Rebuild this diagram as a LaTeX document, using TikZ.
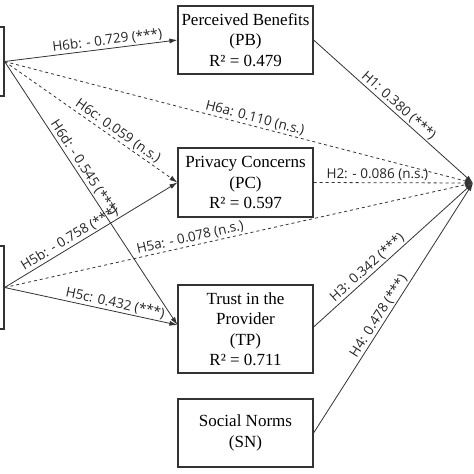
\documentclass[tikz,border=0pt]{standalone}
\usepackage{fontspec}
\setmainfont{Liberation Serif}
\newfontfamily\lblfont{Open Sans}
\usetikzlibrary{arrows.meta}
\definecolor{ln}{HTML}{333333}
\begin{document}
\begin{tikzpicture}[x=1pt,y=-1pt,
  box/.style={draw=ln, line width=1.2pt, inner sep=0pt, align=center,
    minimum width=135pt, font=\fontsize{17}{20.5}\selectfont},
  sidebox/.style={draw=ln, line width=1.2pt, inner sep=0pt, minimum width=64pt},
  edge/.style={draw=ln, line width=0.8pt, -{Latex[length=8pt,width=5pt]}},
  dsh/.style={dash pattern=on 3pt off 3pt},
  lbl/.style={font=\lblfont\fontsize{13.5}{15}\selectfont, sloped, above, inner sep=1.5pt, text=black!85}]
\useasboundingbox (0,0) rectangle (474,474);
\clip (0,0) rectangle (474,474);
\fill[white] (0,0) rectangle (474,474);

\node[sidebox, minimum height=69pt] (L1) at (-28,61.5) {};
\node[sidebox, minimum height=83pt] (L2) at (-28,287.5) {};

\node[box, minimum height=68pt] (PB) at (245.5,40) {Perceived Benefits\\(PB)\\R² = 0.479};
\node[box, minimum height=69pt] (PC) at (245.5,182.5) {Privacy Concerns\\(PC)\\R² = 0.597};
\node[box, minimum height=88pt] (TP) at (245.5,329) {Trust in the\\Provider\\(TP)\\R² = 0.711};
\node[box, minimum height=68pt] (SN) at (245.5,433) {Social Norms\\(SN)};

\coordinate (T) at (473,183);
\coordinate (TPin) at (177.4,325);

% from L1
\draw[edge] (L1.east) -- node[lbl, pos=0.6] {H6b: - 0.729 (***)} (PB.west);
\draw[edge, dsh] (L1.east) -- node[lbl, pos=0.63] {H6c: 0.059 (n.s.)} (PC.west);
\draw[edge, dsh] (L1.east) -- node[lbl, pos=0.53] {H6a: 0.110 (n.s.)} (T);
\draw[edge] (L1.east) -- node[lbl, pos=0.42] {H6d: - 0.545 (***)} (TPin);

% from L2
\draw[edge] (L2.east) -- node[lbl, pos=0.4] {H5b: - 0.758 (***)} (PC.west);
\draw[edge, dsh] (L2.east) -- node[lbl, pos=0.4] {H5a: - 0.078 (n.s.)} (T);
\draw[edge] (L2.east) -- node[lbl, pos=0.63] {H5c: 0.432 (***)} (TPin);

% to target
\draw[edge] (PB.east) -- node[lbl, pos=0.5] {H1: 0.380 (***)} (T);
\draw[edge, dsh] (PC.east) -- node[lbl, pos=0.4] {H2: - 0.086 (n.s.)} (T);
\draw[edge] ([yshift=2pt]TP.east) -- node[lbl, pos=0.37] {H3: 0.342 (***)} (T);
\draw[edge] (SN.east) -- node[lbl, pos=0.45] {H4: 0.478 (***)} (T);
\end{tikzpicture}
\end{document}
